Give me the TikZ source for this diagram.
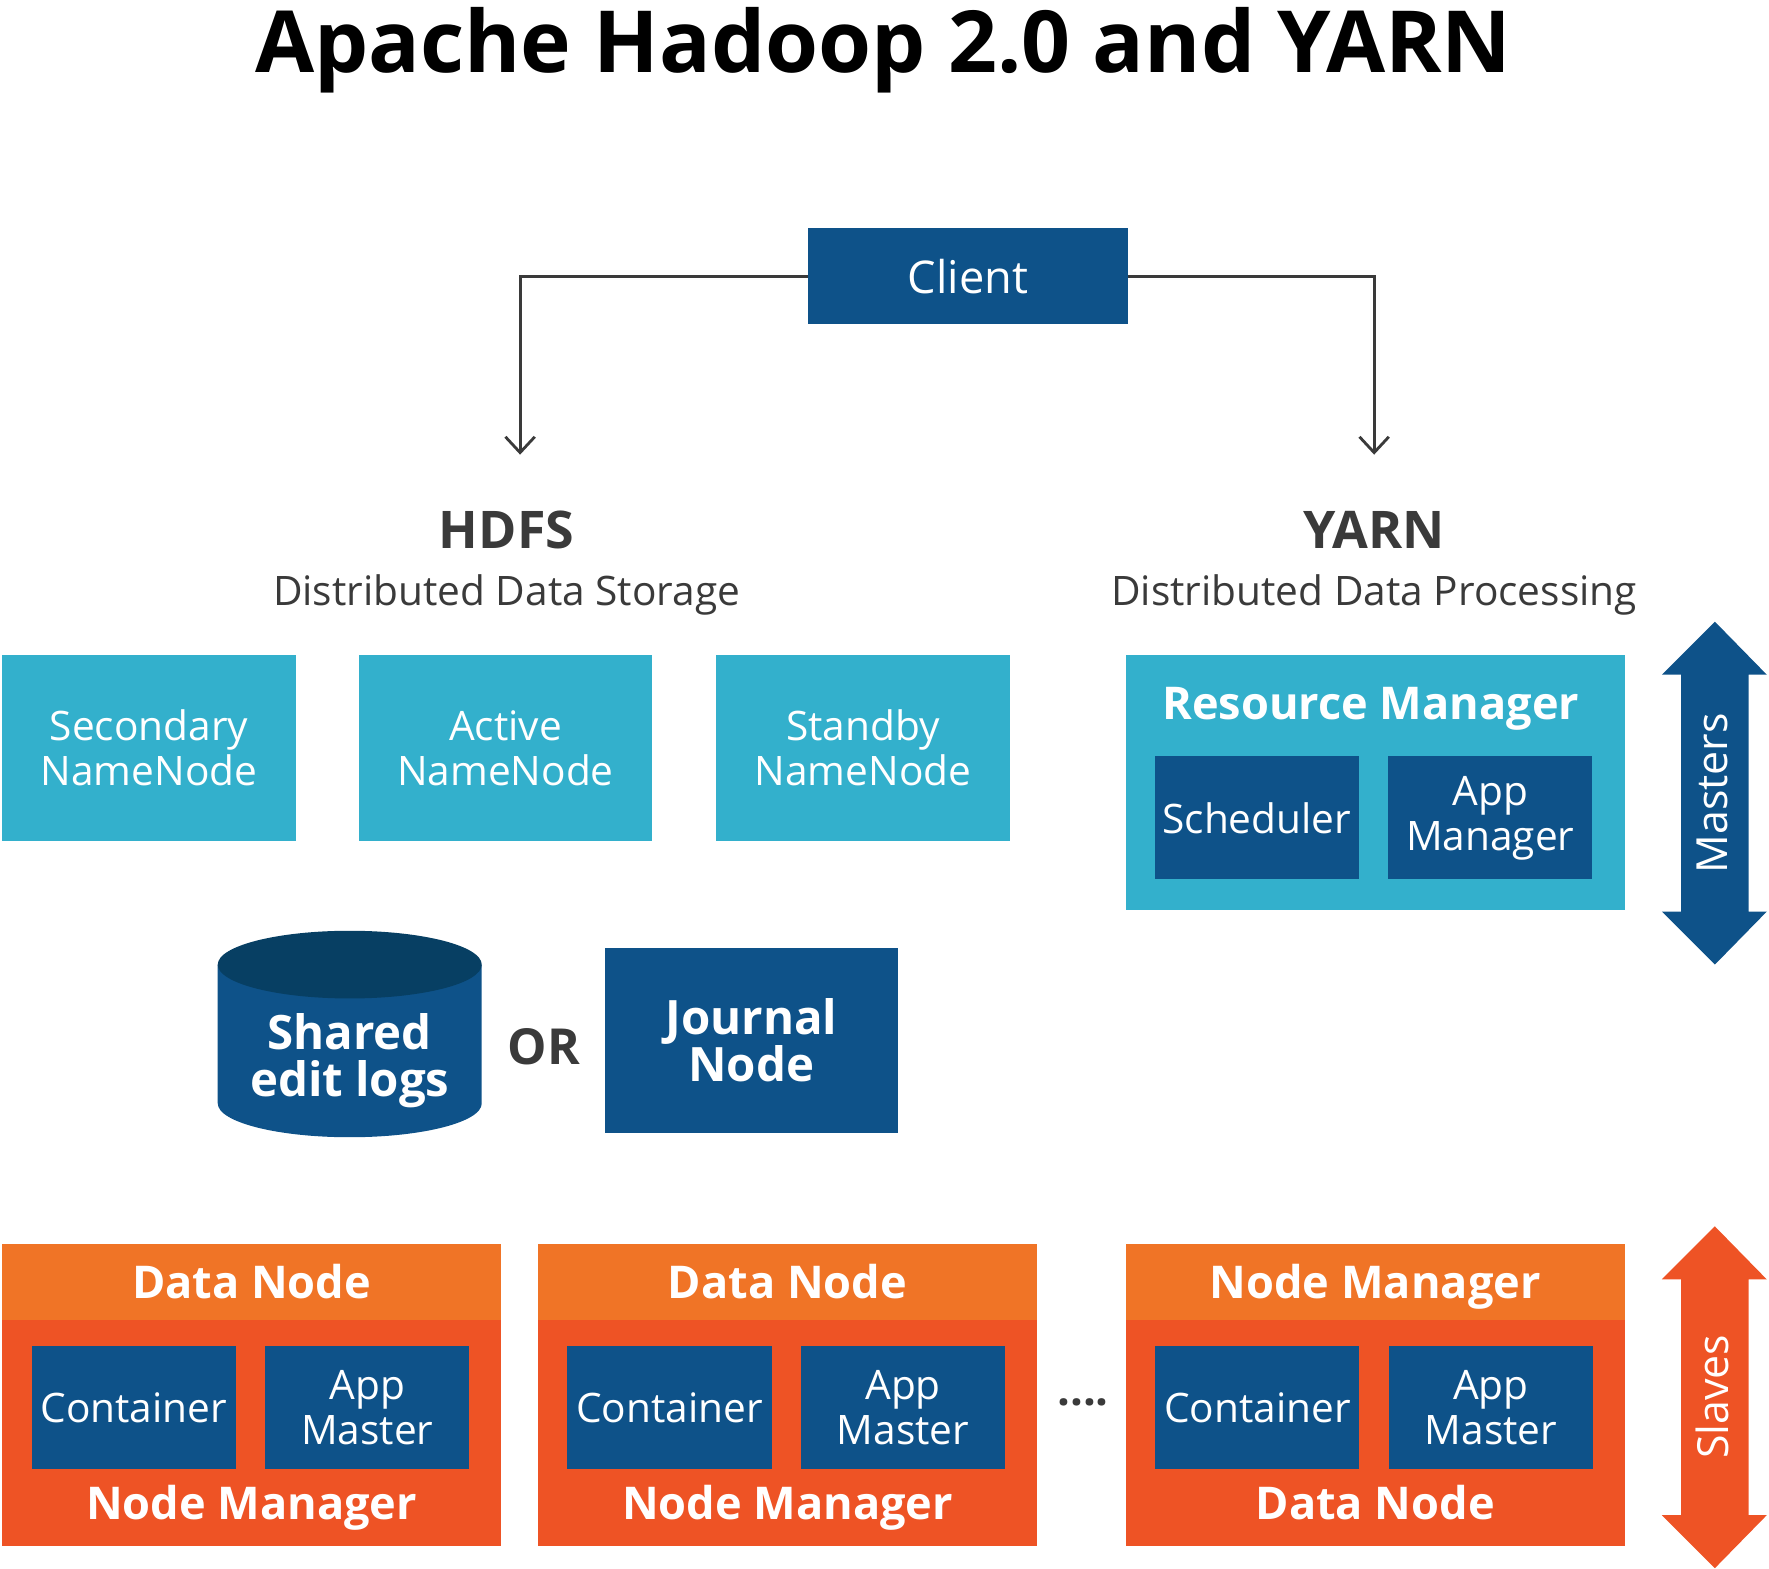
\documentclass[tikz,border=0pt]{standalone}
\usepackage{fontspec}
\setmainfont{Open Sans}
\usetikzlibrary{arrows.meta}
\definecolor{dblue}{HTML}{0E5289}
\definecolor{ddblue}{HTML}{073F63}
\definecolor{teal}{HTML}{33B0CC}
\definecolor{orA}{HTML}{F07426}
\definecolor{orB}{HTML}{EE5325}
\definecolor{txt}{HTML}{3A3A3A}
\begin{document}
\begin{tikzpicture}[x=1pt,y=-1pt,
  box/.style={draw=none,inner sep=0pt,align=center,text=white,font=\fontsize{36}{40}\selectfont},
  conn/.style={draw=txt,line width=2.5pt,-{Straight Barb[length=14pt,width=26pt,line width=2.5pt]}},
  bold/.style={font=\fontsize{#1}{#1}\selectfont\bfseries}]
\useasboundingbox (0,0) rectangle (1568,1390);
\node[bold=76,text=black,anchor=base] (title) at (783,64) {Apache Hadoop 2.0 and YARN};
% client
\node[box,fill=dblue,minimum width=284,minimum height=85,font=\fontsize{40}{44}\selectfont] (client) at (858,245) {Client};
\coordinate (hd) at (461,403); \coordinate (ya) at (1218,403);
\draw[conn] (client.west) -| (hd);
\draw[conn] (client.east) -| (ya);
\node[bold=46,text=txt] (hdfs) at (449,470) {HDFS};
\node[text=txt,font=\fontsize{36}{40}\selectfont] (hdfsd) at (449,527) {Distributed Data Storage};
\node[bold=46,text=txt] (yarn) at (1218,470) {YARN};
\node[text=txt,font=\fontsize{36}{40}\selectfont] (yarnd) at (1218,527) {Distributed Data Processing};
% namenodes
\node[box,fill=teal,minimum width=260,minimum height=165] (sec) at (132,663) {Secondary\\NameNode};
\node[box,fill=teal,minimum width=260,minimum height=165] (act) at (448,663) {Active\\NameNode};
\node[box,fill=teal,minimum width=260,minimum height=165] (stb) at (765,663) {Standby\\NameNode};
% resource manager
\node[box,fill=teal,minimum width=442,minimum height=226] (rm) at (1219,694) {};
\node[bold=40,text=white,anchor=base] (rmt) at (1215,638) {Resource Manager};
\node[box,fill=dblue,minimum width=181,minimum height=109] (sch) at (1114,725) {Scheduler};
\node[box,fill=dblue,minimum width=181,minimum height=109] (am) at (1321,725) {App\\Manager};
% masters arrow
\fill[dblue] (1520,551) -- (1566,598) -- (1550,598) -- (1550,808) -- (1566,808) -- (1520,855) -- (1473,808) -- (1490,808) -- (1490,598) -- (1473,598) -- cycle;
\node[text=white,rotate=90,font=\fontsize{38}{40}\selectfont] (mast) at (1518,703) {Masters};
% cylinder
\fill[dblue] (193,855) -- (193,978) arc[start angle=180,end angle=0,x radius=117,y radius=30] -- (427,855) -- cycle;
\fill[ddblue] (310,855) ellipse[x radius=117,y radius=30];
\node[box,bold=42] (shared) at (310,940) {Shared\\edit logs};
\node[bold=44,text=txt] (or) at (482,928) {OR};
\node[box,bold=42,fill=dblue,minimum width=260,minimum height=164] (jn) at (666,922) {Journal\\Node};
% bottom
\foreach \n/\x/\t/\b in {a/2/Data Node/Node Manager, b/477/Data Node/Node Manager, c/998/Node Manager/Data Node}{
  \fill[orB] (\x,1170) rectangle ++(442,200);
  \fill[orA] (\x,1103) rectangle ++(442,67);
  \node[bold=40,text=white,anchor=base] (t\n) at (\x+221,1151) {\t};
  \node[bold=40,text=white,anchor=base] (b\n) at (\x+221,1347) {\b};
  \node[box,fill=dblue,minimum width=181,minimum height=109] (c\n) at (\x+116.5,1247.5) {Container};
  \node[box,fill=dblue,minimum width=181,minimum height=109] (m\n) at (\x+323.5,1247.5) {App\\Master};
}
\node[bold=40,text=txt] (dots) at (960,1243) {....};
% slaves arrow
\fill[orB] (1520,1087) -- (1566,1134) -- (1550,1134) -- (1550,1343) -- (1566,1343) -- (1520,1390) -- (1473,1343) -- (1490,1343) -- (1490,1134) -- (1473,1134) -- cycle;
\node[text=white,rotate=90,font=\fontsize{38}{40}\selectfont] (sl) at (1518,1238) {Slaves};
\end{tikzpicture}
\end{document}
